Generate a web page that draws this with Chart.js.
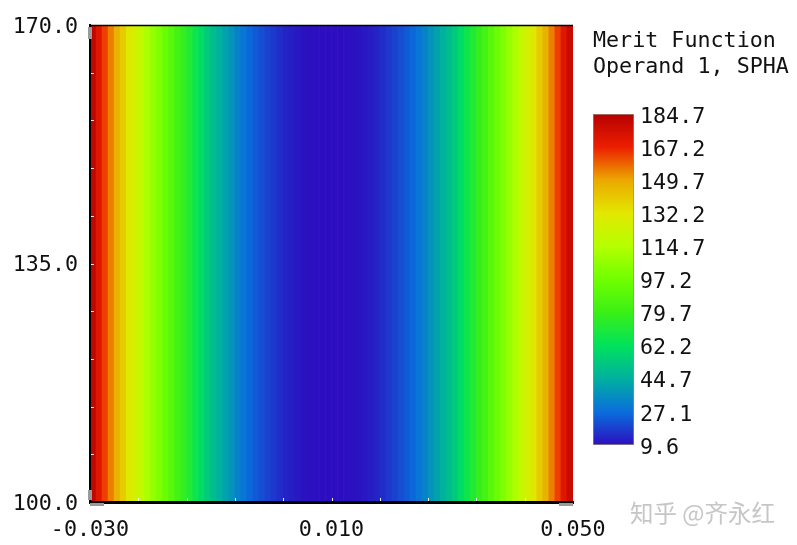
<!DOCTYPE html>
<html><head><meta charset="utf-8">
<script src="https://cdn.jsdelivr.net/npm/chart.js@4/dist/chart.umd.min.js"></script>
<style>
body{margin:0;background:#fff;width:797px;height:545px;overflow:hidden;position:relative;font-family:'DejaVu Sans Mono',monospace;}
#main{position:absolute;left:0;top:0;}
#cb{position:absolute;left:560px;top:90px;}
#title{position:absolute;left:593px;top:27px;font-size:21.7px;line-height:26px;color:#111;white-space:pre;}
#wm{position:absolute;left:630px;top:497px;font-family:'Noto Sans CJK SC',sans-serif;font-size:23.5px;line-height:30px;color:#c6c6c6;}
</style></head>
<body>
<canvas id="main" width="797" height="545"></canvas>
<canvas id="cb" width="237" height="380"></canvas>
<div id="title">Merit Function
Operand 1, SPHA</div>
<div id="wm">知乎 @齐永红</div>
<script>
// Grid cell centres along x (each cell 0.001 wide), spanning -0.030 .. 0.050
const cellX = [-0.0295,-0.0285,-0.0275,-0.0265,-0.0255,-0.0245,-0.0235,-0.0225,-0.0215,-0.0205,
  -0.0195,-0.0185,-0.0175,-0.0165,-0.0155,-0.0145,-0.0135,-0.0125,-0.0115,-0.0105,
  -0.0095,-0.0085,-0.0075,-0.0065,-0.0055,-0.0045,-0.0035,-0.0025,-0.0015,-0.0005,
  0.0005,0.0015,0.0025,0.0035,0.0045,0.0055,0.0065,0.0075,0.0085,0.0095,
  0.0105,0.0115,0.0125,0.0135,0.0145,0.0155,0.0165,0.0175,0.0185,0.0195,
  0.0205,0.0215,0.0225,0.0235,0.0245,0.0255,0.0265,0.0275,0.0285,0.0295,
  0.0305,0.0315,0.0325,0.0335,0.0345,0.0355,0.0365,0.0375,0.0385,0.0395,
  0.0405,0.0415,0.0425,0.0435,0.0445,0.0455,0.0465,0.0475,0.0485,0.0495];
// SPHA merit operand value for each column (constant along y)
const cellValues = [181.0,171.0,163.0,155.0,147.0,140.0,132.0,126.0,120.0,113.0,
  107.0,101.0,95.0,89.0,83.0,78.0,72.0,66.0,60.0,54.0,
  49.0,45.0,41.0,37.0,32.5,29.0,26.0,23.5,21.0,19.0,
  17.0,15.2,13.6,12.3,11.2,10.4,9.9,9.7,9.6,9.6,
  9.6,9.6,9.7,9.9,10.4,11.2,12.3,13.6,15.2,17.0,
  19.0,21.0,23.5,26.0,29.0,32.5,37.0,41.0,45.0,49.0,
  54.0,60.0,66.0,72.0,78.0,83.0,89.0,95.0,101.0,107.0,
  113.0,120.0,126.0,132.0,140.0,147.0,155.0,163.0,171.0,179.0];
const yRange = [100.0, 170.0];
const xRange = [-0.030, 0.050];
const xTicks = [-0.030,-0.022,-0.014,-0.006,0.002,0.010,0.018,0.026,0.034,0.042,0.050];
const xTickLabels = ['-0.030','','','','','0.010','','','','','0.050'];
const yTicks = [100,107,114,121,128,135,142,149,156,163,170];
const yTickLabels = ['100.0','','','','','135.0','','','','','170.0'];
const cbTicks = [9.6,27.1,44.7,62.2,79.7,97.2,114.7,132.2,149.7,167.2,184.7];
const cbTickLabels = ['9.6','27.1','44.7','62.2','79.7','97.2','114.7','132.2','149.7','167.2','184.7'];
const cbColors = [[44,14,192],[10,110,220],[0,176,160],[0,226,92],[58,240,22],[112,255,0],[180,255,0],[226,232,0],[236,168,0],[236,30,0],[182,0,0]];

const cbMin = cbTicks[0], cbMax = cbTicks[cbTicks.length-1];
function colorFor(v){
  if (v <= cbTicks[0]) return 'rgb(' + cbColors[0].join(',') + ')';
  for (let i=1;i<cbTicks.length;i++){
    if (v <= cbTicks[i]){
      const t=(v-cbTicks[i-1])/(cbTicks[i]-cbTicks[i-1]);
      const a=cbColors[i-1], b=cbColors[i];
      return 'rgb(' + [0,1,2].map(k=>Math.round(a[k]+(b[k]-a[k])*t)).join(',') + ')';
    }
  }
  return 'rgb(' + cbColors[cbColors.length-1].join(',') + ')';
}
const monoFont = {family:"'DejaVu Sans Mono', monospace", size:21.7};

const frame = {
  id:'frame',
  afterDraw(chart){
    const {ctx, chartArea:a, scales:{x,y}} = chart;
    ctx.save();
    ctx.strokeStyle='#000'; ctx.lineWidth=1.5;
    ctx.beginPath(); ctx.moveTo(a.left,a.top+0.5); ctx.lineTo(a.right,a.top+0.5); ctx.stroke();
    ctx.strokeStyle='rgba(255,255,255,0.9)'; ctx.lineWidth=1;
    ctx.beginPath();
    xTicks.slice(1,-1).forEach(v=>{const p=Math.round(x.getPixelForValue(v))+0.5; ctx.moveTo(p,a.bottom-4); ctx.lineTo(p,a.bottom-1);});
    yTicks.slice(1,-1).forEach(v=>{const p=Math.round(y.getPixelForValue(v))+0.5; ctx.moveTo(a.left+1,p); ctx.lineTo(a.left+4,p);});
    ctx.stroke();
    ctx.fillStyle='#9a9a9a';
    ctx.fillRect(a.left-2,a.top+2,4,12);
    ctx.fillRect(a.left-2,a.bottom-12,4,10);
    ctx.fillRect(a.left,a.bottom+1,14,3);
    ctx.fillRect(a.right-14,a.bottom+1,14,3);
    ctx.restore();
  }
};

new Chart(document.getElementById('main'), {
  type:'bar',
  data:{datasets:[{
    data: cellX.map((x)=>({x:x, y:[yRange[0], yRange[1]]})),
    backgroundColor: cellValues.map(colorFor),
    borderWidth:0, barPercentage:1, categoryPercentage:1
  }]},
  options:{
    responsive:false, animation:false,
    layout:{padding:{top:23,right:224,left:0,bottom:0}},
    plugins:{legend:{display:false},tooltip:{enabled:false}},
    scales:{
      x:{type:'linear', min:xRange[0], max:xRange[1], offset:false,
        afterBuildTicks:s=>{s.ticks = xTicks.map(v=>({value:v}));},
        afterFit:s=>{s.height=43;},
        ticks:{font:monoFont, color:'#111', padding:15, maxRotation:0, autoSkip:false,
          callback:(v,i)=>xTickLabels[i]},
        grid:{display:false, drawTicks:false},
        border:{display:true,color:'#000',width:3,z:1}},
      y:{type:'linear', min:yRange[0], max:yRange[1],
        afterBuildTicks:s=>{s.ticks = yTicks.map(v=>({value:v}));},
        afterFit:s=>{s.width=90;},
        ticks:{font:monoFont, color:'#111', padding:12, labelOffset:2, autoSkip:false,
          callback:(v,i)=>yTickLabels[i]},
        grid:{display:false, drawTicks:false},
        border:{display:true,color:'#000',width:2,z:1}}
    }
  },
  plugins:[frame]
});

new Chart(document.getElementById('cb'), {
  type:'bar',
  data:{labels:[''], datasets:[{
    data:[[cbMin, cbMax]],
    backgroundColor:(c)=>{
      const chart=c.chart; const ys=chart.scales.y;
      if(!chart.chartArea || !ys) return colorFor(100);
      const g=chart.ctx.createLinearGradient(0, ys.getPixelForValue(cbMin), 0, ys.getPixelForValue(cbMax));
      cbTicks.forEach((v,i)=>g.addColorStop((v-cbMin)/(cbMax-cbMin), 'rgb('+cbColors[i].join(',')+')'));
      return g;
    },
    borderWidth:1, borderColor:'#9c8c7c', borderSkipped:false,
    barPercentage:1, categoryPercentage:1
  }]},
  options:{
    responsive:false, animation:false,
    layout:{padding:{top:24,left:33,right:0,bottom:25}},
    plugins:{legend:{display:false},tooltip:{enabled:false}},
    scales:{
      x:{display:false},
      y:{position:'right', min:cbMin, max:cbMax,
        afterBuildTicks:s=>{s.ticks = cbTicks.map(v=>({value:v}));},
        afterFit:s=>{s.width=163;},
        ticks:{font:monoFont, color:'#111', padding:6, labelOffset:3, autoSkip:false,
          callback:(v,i)=>cbTickLabels[i]},
        grid:{display:false, drawTicks:false},
        border:{display:false}}
    }
  }
});
</script>
</body></html>
